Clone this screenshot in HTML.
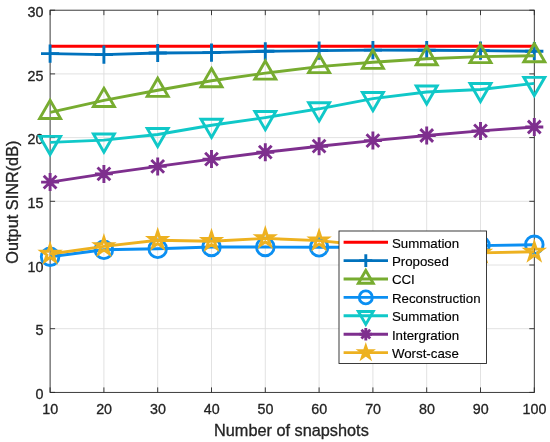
<!DOCTYPE html>
<html><head><meta charset="utf-8"><style>
html,body{margin:0;padding:0;background:#fff;width:550px;height:442px;overflow:hidden}
svg{display:block;will-change:transform}
</style></head><body>
<svg width="550" height="442" viewBox="0 0 550 442"><path d="M103.90 10.20V392.40M157.70 10.20V392.40M211.50 10.20V392.40M265.30 10.20V392.40M319.10 10.20V392.40M372.90 10.20V392.40M426.70 10.20V392.40M480.50 10.20V392.40M50.10 328.70H534.30M50.10 265.00H534.30M50.10 201.30H534.30M50.10 137.60H534.30M50.10 73.90H534.30" stroke="#dfdfdf" stroke-width="0.9" fill="none"/>
<path d="M50.10 392.40v-5M50.10 10.20v5M103.90 392.40v-5M103.90 10.20v5M157.70 392.40v-5M157.70 10.20v5M211.50 392.40v-5M211.50 10.20v5M265.30 392.40v-5M265.30 10.20v5M319.10 392.40v-5M319.10 10.20v5M372.90 392.40v-5M372.90 10.20v5M426.70 392.40v-5M426.70 10.20v5M480.50 392.40v-5M480.50 10.20v5M534.30 392.40v-5M534.30 10.20v5M50.10 392.40h5M534.30 392.40h-5M50.10 328.70h5M534.30 328.70h-5M50.10 265.00h5M534.30 265.00h-5M50.10 201.30h5M534.30 201.30h-5M50.10 137.60h5M534.30 137.60h-5M50.10 73.90h5M534.30 73.90h-5M50.10 10.20h5M534.30 10.20h-5" stroke="#262626" stroke-width="0.9" fill="none"/>
<rect x="50.10" y="10.20" width="484.20" height="382.20" stroke="#262626" stroke-width="0.9" fill="none"/>
<text x="50.30" y="414.3" font-size="14.3" text-anchor="middle" fill="#262626" style="font-family:'Liberation Sans',sans-serif;stroke:#1a1a1a;stroke-width:0.3px">10</text>
<text x="104.10" y="414.3" font-size="14.3" text-anchor="middle" fill="#262626" style="font-family:'Liberation Sans',sans-serif;stroke:#1a1a1a;stroke-width:0.3px">20</text>
<text x="157.90" y="414.3" font-size="14.3" text-anchor="middle" fill="#262626" style="font-family:'Liberation Sans',sans-serif;stroke:#1a1a1a;stroke-width:0.3px">30</text>
<text x="211.70" y="414.3" font-size="14.3" text-anchor="middle" fill="#262626" style="font-family:'Liberation Sans',sans-serif;stroke:#1a1a1a;stroke-width:0.3px">40</text>
<text x="265.50" y="414.3" font-size="14.3" text-anchor="middle" fill="#262626" style="font-family:'Liberation Sans',sans-serif;stroke:#1a1a1a;stroke-width:0.3px">50</text>
<text x="319.30" y="414.3" font-size="14.3" text-anchor="middle" fill="#262626" style="font-family:'Liberation Sans',sans-serif;stroke:#1a1a1a;stroke-width:0.3px">60</text>
<text x="373.10" y="414.3" font-size="14.3" text-anchor="middle" fill="#262626" style="font-family:'Liberation Sans',sans-serif;stroke:#1a1a1a;stroke-width:0.3px">70</text>
<text x="426.90" y="414.3" font-size="14.3" text-anchor="middle" fill="#262626" style="font-family:'Liberation Sans',sans-serif;stroke:#1a1a1a;stroke-width:0.3px">80</text>
<text x="480.70" y="414.3" font-size="14.3" text-anchor="middle" fill="#262626" style="font-family:'Liberation Sans',sans-serif;stroke:#1a1a1a;stroke-width:0.3px">90</text>
<text x="534.50" y="414.3" font-size="14.3" text-anchor="middle" fill="#262626" style="font-family:'Liberation Sans',sans-serif;stroke:#1a1a1a;stroke-width:0.3px">100</text>
<text x="43.5" y="399.10" font-size="14.3" text-anchor="end" fill="#262626" style="font-family:'Liberation Sans',sans-serif;stroke:#1a1a1a;stroke-width:0.3px">0</text>
<text x="43.5" y="335.40" font-size="14.3" text-anchor="end" fill="#262626" style="font-family:'Liberation Sans',sans-serif;stroke:#1a1a1a;stroke-width:0.3px">5</text>
<text x="43.5" y="271.70" font-size="14.3" text-anchor="end" fill="#262626" style="font-family:'Liberation Sans',sans-serif;stroke:#1a1a1a;stroke-width:0.3px">10</text>
<text x="43.5" y="208.00" font-size="14.3" text-anchor="end" fill="#262626" style="font-family:'Liberation Sans',sans-serif;stroke:#1a1a1a;stroke-width:0.3px">15</text>
<text x="43.5" y="144.30" font-size="14.3" text-anchor="end" fill="#262626" style="font-family:'Liberation Sans',sans-serif;stroke:#1a1a1a;stroke-width:0.3px">20</text>
<text x="43.5" y="80.60" font-size="14.3" text-anchor="end" fill="#262626" style="font-family:'Liberation Sans',sans-serif;stroke:#1a1a1a;stroke-width:0.3px">25</text>
<text x="43.5" y="16.90" font-size="14.3" text-anchor="end" fill="#262626" style="font-family:'Liberation Sans',sans-serif;stroke:#1a1a1a;stroke-width:0.3px">30</text>
<text x="291.4" y="435.6" font-size="16.3" text-anchor="middle" fill="#262626" style="font-family:'Liberation Sans',sans-serif;stroke:#1a1a1a;stroke-width:0.3px">Number of snapshots</text>
<text transform="translate(17.85 202.1) rotate(-90)" x="0" y="0" font-size="16.3" text-anchor="middle" fill="#262626" style="font-family:'Liberation Sans',sans-serif;stroke:#1a1a1a;stroke-width:0.3px">Output SINR(dB)</text>
<polyline points="50.10,46.30 103.90,46.30 157.70,46.30 211.50,46.30 265.30,46.30 319.10,46.30 372.90,46.30 426.70,46.30 480.50,46.30 534.30,46.30" stroke="#ff0000" stroke-width="2.9" fill="none" stroke-linejoin="round"/>
<polyline points="50.10,53.60 103.90,54.60 157.70,53.00 211.50,52.60 265.30,51.30 319.10,50.60 372.90,50.10 426.70,50.20 480.50,50.60 534.30,51.20" stroke="#0072bd" stroke-width="2.9" fill="none" stroke-linejoin="round"/>
<path d="M41.00 53.60H59.20M50.10 44.50V62.70M94.80 54.60H113.00M103.90 45.50V63.70M148.60 53.00H166.80M157.70 43.90V62.10M202.40 52.60H220.60M211.50 43.50V61.70M256.20 51.30H274.40M265.30 42.20V60.40M310.00 50.60H328.20M319.10 41.50V59.70M363.80 50.10H382.00M372.90 41.00V59.20M417.60 50.20H435.80M426.70 41.10V59.30M471.40 50.60H489.60M480.50 41.50V59.70M525.20 51.20H543.40M534.30 42.10V60.30" stroke="#0072bd" stroke-width="2.9" fill="none" stroke-miterlimit="10"/>
<polyline points="50.10,112.40 103.90,100.40 157.70,90.30 211.50,80.70 265.30,73.10 319.10,66.60 372.90,62.30 426.70,58.70 480.50,56.60 534.30,55.70" stroke="#77ac30" stroke-width="2.9" fill="none" stroke-linejoin="round"/>
<path d="M50.10 100.30L60.58 118.45L39.62 118.45ZM103.90 88.30L114.38 106.45L93.42 106.45ZM157.70 78.20L168.18 96.35L147.22 96.35ZM211.50 68.60L221.98 86.75L201.02 86.75ZM265.30 61.00L275.78 79.15L254.82 79.15ZM319.10 54.50L329.58 72.65L308.62 72.65ZM372.90 50.20L383.38 68.35L362.42 68.35ZM426.70 46.60L437.18 64.75L416.22 64.75ZM480.50 44.50L490.98 62.65L470.02 62.65ZM534.30 43.60L544.78 61.75L523.82 61.75Z" stroke="#77ac30" stroke-width="2.9" fill="none" stroke-miterlimit="10"/>
<polyline points="50.10,256.70 103.90,249.80 157.70,248.80 211.50,247.00 265.30,247.00 319.10,247.30 372.90,247.30 426.70,246.50 480.50,245.60 534.30,244.80" stroke="#0b8ff2" stroke-width="2.9" fill="none" stroke-linejoin="round"/>
<path d="M41.30 256.70a8.80 8.80 0 1 0 17.60 0a8.80 8.80 0 1 0 -17.60 0ZM95.10 249.80a8.80 8.80 0 1 0 17.60 0a8.80 8.80 0 1 0 -17.60 0ZM148.90 248.80a8.80 8.80 0 1 0 17.60 0a8.80 8.80 0 1 0 -17.60 0ZM202.70 247.00a8.80 8.80 0 1 0 17.60 0a8.80 8.80 0 1 0 -17.60 0ZM256.50 247.00a8.80 8.80 0 1 0 17.60 0a8.80 8.80 0 1 0 -17.60 0ZM310.30 247.30a8.80 8.80 0 1 0 17.60 0a8.80 8.80 0 1 0 -17.60 0ZM364.10 247.30a8.80 8.80 0 1 0 17.60 0a8.80 8.80 0 1 0 -17.60 0ZM417.90 246.50a8.80 8.80 0 1 0 17.60 0a8.80 8.80 0 1 0 -17.60 0ZM471.70 245.60a8.80 8.80 0 1 0 17.60 0a8.80 8.80 0 1 0 -17.60 0ZM525.50 244.80a8.80 8.80 0 1 0 17.60 0a8.80 8.80 0 1 0 -17.60 0Z" stroke="#0b8ff2" stroke-width="2.9" fill="none" stroke-miterlimit="10"/>
<polyline points="50.10,142.40 103.90,140.10 157.70,134.50 211.50,125.30 265.30,117.60 319.10,108.80 372.90,98.60 426.70,92.00 480.50,89.50 534.30,83.40" stroke="#10c8c8" stroke-width="2.9" fill="none" stroke-linejoin="round"/>
<path d="M50.10 154.50L60.58 136.35L39.62 136.35ZM103.90 152.20L114.38 134.05L93.42 134.05ZM157.70 146.60L168.18 128.45L147.22 128.45ZM211.50 137.40L221.98 119.25L201.02 119.25ZM265.30 129.70L275.78 111.55L254.82 111.55ZM319.10 120.90L329.58 102.75L308.62 102.75ZM372.90 110.70L383.38 92.55L362.42 92.55ZM426.70 104.10L437.18 85.95L416.22 85.95ZM480.50 101.60L490.98 83.45L470.02 83.45ZM534.30 95.50L544.78 77.35L523.82 77.35Z" stroke="#10c8c8" stroke-width="2.9" fill="none" stroke-miterlimit="10"/>
<polyline points="50.10,182.10 103.90,173.90 157.70,166.40 211.50,159.10 265.30,152.20 319.10,146.20 372.90,140.60 426.70,135.50 480.50,130.90 534.30,127.00" stroke="#7e2f8e" stroke-width="2.9" fill="none" stroke-linejoin="round"/>
<path d="M41.10 182.10H59.10M50.10 173.10V191.10M43.74 175.74L56.46 188.46M43.74 188.46L56.46 175.74M94.90 173.90H112.90M103.90 164.90V182.90M97.54 167.54L110.26 180.26M97.54 180.26L110.26 167.54M148.70 166.40H166.70M157.70 157.40V175.40M151.34 160.04L164.06 172.76M151.34 172.76L164.06 160.04M202.50 159.10H220.50M211.50 150.10V168.10M205.14 152.74L217.86 165.46M205.14 165.46L217.86 152.74M256.30 152.20H274.30M265.30 143.20V161.20M258.94 145.84L271.66 158.56M258.94 158.56L271.66 145.84M310.10 146.20H328.10M319.10 137.20V155.20M312.74 139.84L325.46 152.56M312.74 152.56L325.46 139.84M363.90 140.60H381.90M372.90 131.60V149.60M366.54 134.24L379.26 146.96M366.54 146.96L379.26 134.24M417.70 135.50H435.70M426.70 126.50V144.50M420.34 129.14L433.06 141.86M420.34 141.86L433.06 129.14M471.50 130.90H489.50M480.50 121.90V139.90M474.14 124.54L486.86 137.26M474.14 137.26L486.86 124.54M525.30 127.00H543.30M534.30 118.00V136.00M527.94 120.64L540.66 133.36M527.94 133.36L540.66 120.64" stroke="#7e2f8e" stroke-width="2.9" fill="none" stroke-miterlimit="10"/>
<polyline points="50.10,254.00 103.90,246.40 157.70,240.20 211.50,241.20 265.30,238.40 319.10,240.60 372.90,246.00 426.70,250.00 480.50,252.90 534.30,251.80" stroke="#edb120" stroke-width="2.9" fill="none" stroke-linejoin="round"/>
<path d="M50.10 245.30L52.05 251.31L58.37 251.31L53.26 255.03L55.21 261.04L50.10 257.32L44.99 261.04L46.94 255.03L41.83 251.31L48.15 251.31ZM103.90 237.70L105.85 243.71L112.17 243.71L107.06 247.43L109.01 253.44L103.90 249.72L98.79 253.44L100.74 247.43L95.63 243.71L101.95 243.71ZM157.70 231.50L159.65 237.51L165.97 237.51L160.86 241.23L162.81 247.24L157.70 243.52L152.59 247.24L154.54 241.23L149.43 237.51L155.75 237.51ZM211.50 232.50L213.45 238.51L219.77 238.51L214.66 242.23L216.61 248.24L211.50 244.52L206.39 248.24L208.34 242.23L203.23 238.51L209.55 238.51ZM265.30 229.70L267.25 235.71L273.57 235.71L268.46 239.43L270.41 245.44L265.30 241.72L260.19 245.44L262.14 239.43L257.03 235.71L263.35 235.71ZM319.10 231.90L321.05 237.91L327.37 237.91L322.26 241.63L324.21 247.64L319.10 243.92L313.99 247.64L315.94 241.63L310.83 237.91L317.15 237.91ZM372.90 237.30L374.85 243.31L381.17 243.31L376.06 247.03L378.01 253.04L372.90 249.32L367.79 253.04L369.74 247.03L364.63 243.31L370.95 243.31ZM426.70 241.30L428.65 247.31L434.97 247.31L429.86 251.03L431.81 257.04L426.70 253.32L421.59 257.04L423.54 251.03L418.43 247.31L424.75 247.31ZM480.50 244.20L482.45 250.21L488.77 250.21L483.66 253.93L485.61 259.94L480.50 256.22L475.39 259.94L477.34 253.93L472.23 250.21L478.55 250.21ZM534.30 243.10L536.25 249.11L542.57 249.11L537.46 252.83L539.41 258.84L534.30 255.12L529.19 258.84L531.14 252.83L526.03 249.11L532.35 249.11Z" stroke="#edb120" stroke-width="2.9" fill="none" stroke-miterlimit="10"/>
<rect x="339.0" y="231.0" width="147.50" height="132.50" fill="#fff" stroke="#262626" stroke-width="0.9"/>
<path d="M343.6 242.20H388" stroke="#ff0000" stroke-width="2.9" fill="none"/>
<text x="391.9" y="247.60" font-size="13.3" fill="#000" style="font-family:'Liberation Sans',sans-serif;stroke:#000;stroke-width:0.15px">Summation</text>
<path d="M343.6 260.60H388" stroke="#0072bd" stroke-width="2.9" fill="none"/>
<path d="M359.34 260.60H372.26M365.80 254.14V267.06" stroke="#0072bd" stroke-width="2.9" fill="none" stroke-miterlimit="10"/>
<text x="391.9" y="266.00" font-size="13.3" fill="#000" style="font-family:'Liberation Sans',sans-serif;stroke:#000;stroke-width:0.15px">Proposed</text>
<path d="M343.6 279.00H388" stroke="#77ac30" stroke-width="2.9" fill="none"/>
<path d="M365.80 270.41L373.24 283.30L358.36 283.30Z" stroke="#77ac30" stroke-width="2.9" fill="none" stroke-miterlimit="10"/>
<text x="391.9" y="284.40" font-size="13.3" fill="#000" style="font-family:'Liberation Sans',sans-serif;stroke:#000;stroke-width:0.15px">CCI</text>
<path d="M343.6 297.40H388" stroke="#0b8ff2" stroke-width="2.9" fill="none"/>
<path d="M359.29 297.40a6.51 6.51 0 1 0 13.02 0a6.51 6.51 0 1 0 -13.02 0Z" stroke="#0b8ff2" stroke-width="2.9" fill="none" stroke-miterlimit="10"/>
<text x="391.9" y="302.80" font-size="13.3" fill="#000" style="font-family:'Liberation Sans',sans-serif;stroke:#000;stroke-width:0.15px">Reconstruction</text>
<path d="M343.6 315.80H388" stroke="#10c8c8" stroke-width="2.9" fill="none"/>
<path d="M365.80 324.39L373.24 311.50L358.36 311.50Z" stroke="#10c8c8" stroke-width="2.9" fill="none" stroke-miterlimit="10"/>
<text x="391.9" y="321.20" font-size="13.3" fill="#000" style="font-family:'Liberation Sans',sans-serif;stroke:#000;stroke-width:0.15px">Summation</text>
<path d="M343.6 334.20H388" stroke="#7e2f8e" stroke-width="2.9" fill="none"/>
<path d="M359.59 334.20H372.01M365.80 327.99V340.41M361.41 329.81L370.19 338.59M361.41 338.59L370.19 329.81" stroke="#7e2f8e" stroke-width="2.9" fill="none" stroke-miterlimit="10"/>
<text x="391.9" y="339.60" font-size="13.3" fill="#000" style="font-family:'Liberation Sans',sans-serif;stroke:#000;stroke-width:0.15px">Intergration</text>
<path d="M343.6 352.60H388" stroke="#edb120" stroke-width="2.9" fill="none"/>
<path d="M365.80 346.60L367.15 350.74L371.51 350.74L367.98 353.31L369.33 357.46L365.80 354.89L362.27 357.46L363.62 353.31L360.09 350.74L364.45 350.74Z" stroke="#edb120" stroke-width="2.9" fill="none" stroke-miterlimit="10"/>
<text x="391.9" y="358.00" font-size="13.3" fill="#000" style="font-family:'Liberation Sans',sans-serif;stroke:#000;stroke-width:0.15px">Worst-case</text></svg>
</body></html>
